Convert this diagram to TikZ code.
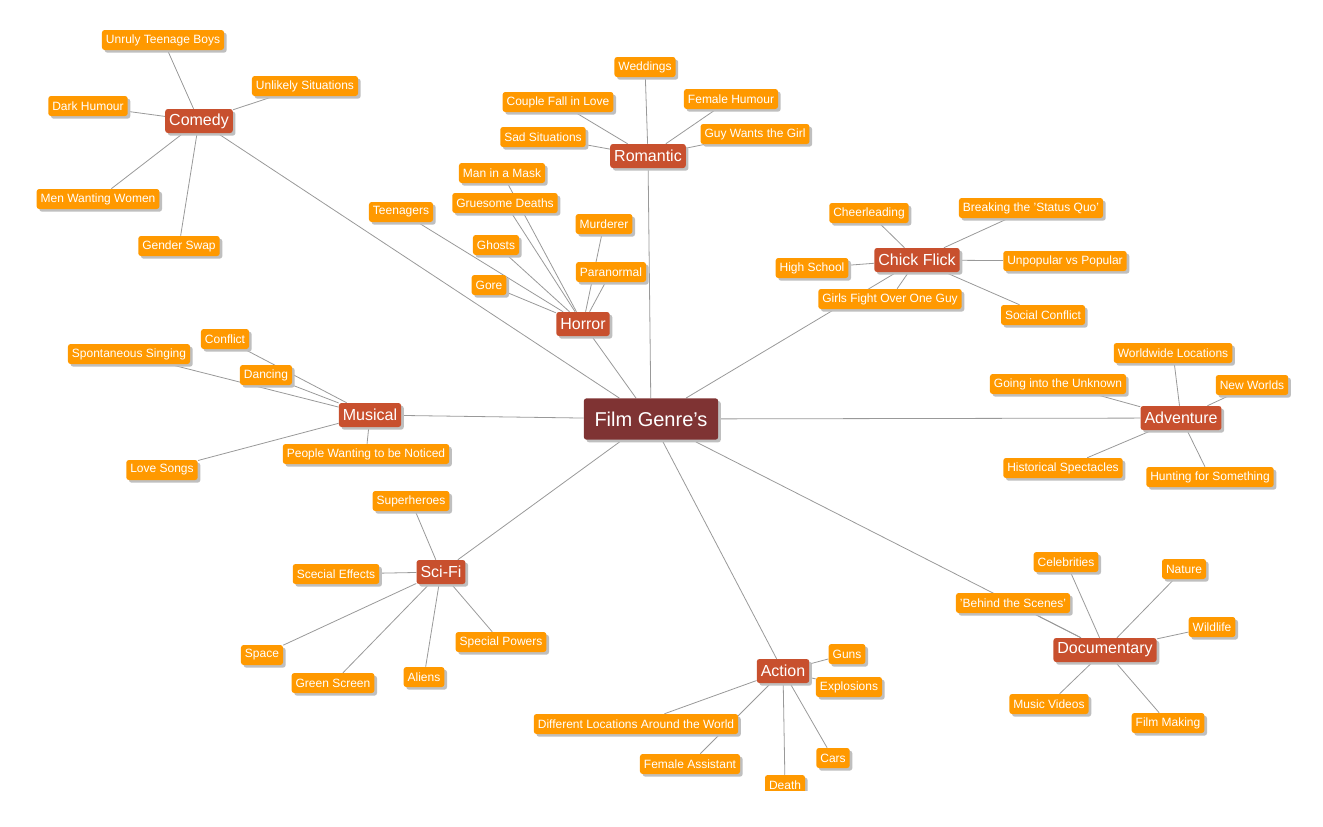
\documentclass[tikz,border=0pt]{standalone}
\usepackage{fontspec}
\setmainfont{Liberation Sans}
\usetikzlibrary{shadows,backgrounds}
\tikzset{
 base/.style={text=white,rounded corners=2pt,drop shadow={shadow xshift=2pt,shadow yshift=-2pt,fill=black!25,opacity=1},inner ysep=0pt},
 leaf/.style={base,fill=orange!90!yellow,font=\fontsize{9}{10}\selectfont,inner xsep=3pt,minimum height=15pt},
 cat/.style={base,fill=catc,font=\fontsize{12}{13}\selectfont,inner xsep=3pt,minimum height=18pt},
 hub/.style={base,fill=hubc,font=\fontsize{15}{16}\selectfont,inner xsep=8pt,minimum height=31pt},
 ln/.style={draw=black!40,line width=0.6pt}
}
\definecolor{catc}{HTML}{C8502E}
\definecolor{hubc}{HTML}{7F3333}
\colorlet{orange}{orange}
\definecolor{leafc}{HTML}{FF9900}
\tikzset{leaf/.append style={fill=leafc}}
\newcommand{\grp}[2]{\foreach \l in {#2}{\draw[ln] (#1) -- (\l);}}
\begin{document}
\begin{tikzpicture}[x=0.75pt,y=-0.75pt]
\useasboundingbox (0,0) rectangle (1323,826);
\begin{scope}
\clip (0,0) rectangle (1323,790);
\node[hub] (c) at (651,419) {Film Genre's};
\node[cat] (com) at (199,121) {Comedy};
\node[leaf] (com1) at (163,40) {Unruly Teenage Boys};
\node[leaf] (com2) at (305,86) {Unlikely Situations};
\node[leaf] (com3) at (88,106) {Dark Humour};
\node[leaf] (com4) at (98,199) {Men Wanting Women};
\node[leaf] (com5) at (179,246) {Gender Swap};
\node[cat] (rom) at (648,156) {Romantic};
\node[leaf] (rom1) at (645,67) {Weddings};
\node[leaf] (rom2) at (558,102) {Couple Fall in Love};
\node[leaf] (rom3) at (731,99) {Female Humour};
\node[leaf] (rom4) at (543,137) {Sad Situations};
\node[leaf] (rom5) at (755,134) {Guy Wants the Girl};
\node[cat] (hor) at (583,324) {Horror};
\node[leaf] (hor1) at (502,173) {Man in a Mask};
\node[leaf] (hor2) at (505,203) {Gruesome Deaths};
\node[leaf] (hor3) at (401,212) {Teenagers};
\node[leaf] (hor4) at (604,224) {Murderer};
\node[leaf] (hor5) at (496,245) {Ghosts};
\node[leaf] (hor6) at (611,272) {Paranormal};
\node[leaf] (hor7) at (489,285) {Gore};
\node[cat] (chi) at (917,260) {Chick Flick};
\node[leaf] (chi1) at (869,213) {Cheerleading};
\node[leaf] (chi2) at (1031,208) {Breaking the 'Status Quo'};
\node[leaf] (chi3) at (812,268) {High School};
\node[leaf] (chi4) at (1065,261) {Unpopular vs Popular};
\node[leaf] (chi5) at (890,299) {Girls Fight Over One Guy};
\node[leaf] (chi6) at (1043,315) {Social Conflict};
\node[cat] (adv) at (1181,418) {Adventure};
\node[leaf] (adv1) at (1173,353) {Worldwide Locations};
\node[leaf] (adv2) at (1058,384) {Going into the Unknown};
\node[leaf] (adv3) at (1252,385) {New Worlds};
\node[leaf] (adv4) at (1063,468) {Historical Spectacles};
\node[leaf] (adv5) at (1210,477) {Hunting for Something};
\node[cat] (mus) at (370,415) {Musical};
\node[leaf] (mus1) at (225,339) {Conflict};
\node[leaf] (mus2) at (129,354) {Spontaneous Singing};
\node[leaf] (mus3) at (266,375) {Dancing};
\node[leaf] (mus4) at (162,470) {Love Songs};
\node[leaf] (mus5) at (366,454) {People Wanting to be Noticed};
\node[cat] (sci) at (441,572) {Sci-Fi};
\node[leaf] (sci1) at (411,501) {Superheroes};
\node[leaf] (sci2) at (336,574) {Scecial Effects};
\node[leaf] (sci3) at (501,642) {Special Powers};
\node[leaf] (sci4) at (262,655) {Space};
\node[leaf] (sci5) at (333,683) {Green Screen};
\node[leaf] (sci6) at (424,677) {Aliens};
\node[cat] (act) at (783,671) {Action};
\node[leaf] (act1) at (847,654) {Guns};
\node[leaf] (act2) at (849,687) {Explosions};
\node[leaf] (act3) at (636,724) {Different Locations Around the World};
\node[leaf] (act4) at (690,764) {Female Assistant};
\node[leaf] (act5) at (833,758) {Cars};
\node[leaf] (act6) at (785,785) {Death};
\node[cat] (doc) at (1105,650) {Documentary};
\node[leaf] (doc1) at (1066,562) {Celebrities};
\node[leaf] (doc2) at (1184,569) {Nature};
\node[leaf] (doc3) at (1013,603) {'Behind the Scenes'};
\node[leaf] (doc4) at (1212,627) {Wildlife};
\node[leaf] (doc5) at (1049,704) {Music Videos};
\node[leaf] (doc6) at (1168,723) {Film Making};
\end{scope}
\begin{scope}[on background layer]
\grp{c}{com,rom,hor,chi,adv,mus,sci,act,doc}
\grp{com}{com1,com2,com3,com4,com5}
\grp{rom}{rom1,rom2,rom3,rom4,rom5}
\grp{hor}{hor1,hor2,hor3,hor4,hor5,hor6,hor7}
\grp{chi}{chi1,chi2,chi3,chi4,chi5,chi6}
\grp{adv}{adv1,adv2,adv3,adv4,adv5}
\grp{mus}{mus1,mus2,mus3,mus4,mus5}
\grp{sci}{sci1,sci2,sci3,sci4,sci5,sci6}
\grp{act}{act1,act2,act3,act4,act5,act6}
\grp{doc}{doc1,doc2,doc3,doc4,doc5,doc6}
\end{scope}
\end{tikzpicture}
\end{document}
